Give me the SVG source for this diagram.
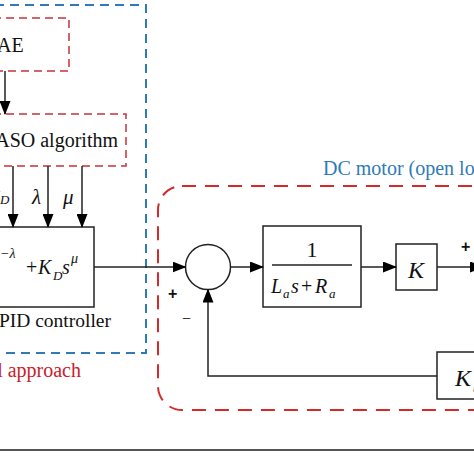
<svg xmlns="http://www.w3.org/2000/svg" width="474" height="474" viewBox="0 0 474 474">
<defs>
<style>
text{font-family:'Liberation Serif','Times New Roman',serif;fill:#111}
.it{font-style:italic}
.ln{stroke:#222;stroke-width:1.5;fill:none}
.box{stroke:#222;stroke-width:1.5;fill:#fff}
.rd{stroke:#c8303c;stroke-width:1.5;fill:none;stroke-dasharray:8 5}
.sg{font-weight:bold;font-family:'Liberation Sans',Arial,sans-serif}
</style>
<marker id="ah" markerWidth="14" markerHeight="11" refX="13" refY="5.5" orient="auto" markerUnits="userSpaceOnUse">
<path d="M0,0 L14,5.5 L0,11 Z" fill="#000"/>
</marker>
</defs>
<rect width="474" height="474" fill="#fff"/>

<g id="approach-frame">
<rect x="-20" y="5" width="166" height="348" fill="none" stroke="#2e7bb8" stroke-width="2" stroke-dasharray="9 6"/>
<text x="81" y="377" font-size="20" text-anchor="end" style="fill:#c8202a">control approach</text>
</g>

<g id="motor-frame">
<rect x="158" y="186" width="360" height="224" rx="24" fill="none" stroke="#d42a2a" stroke-width="2" stroke-dasharray="14 9"/>
<text x="323" y="175" font-size="20" style="fill:#2e7bb8">DC motor (open loop)</text>
</g>

<g id="ae">
<rect class="rd" x="-20" y="18" width="89" height="53"/>
<text x="-3" y="52" font-size="20">AE</text>
</g>

<g id="aso">
<rect class="rd" x="-20" y="114" width="146" height="52"/>
<text x="118" y="147" font-size="20" text-anchor="end">ASO algorithm</text>
</g>

<g id="pid">
<rect class="box" x="-20" y="227" width="114" height="80"/>
<text class="it" x="0" y="258" font-size="14">−λ</text>
<text x="26" y="274" font-size="20">+</text>
<text class="it" x="38" y="274" font-size="20">K</text>
<text class="it" x="53" y="280" font-size="13">D</text>
<text class="it" x="62" y="274" font-size="20">s</text>
<text class="it" x="71" y="263" font-size="14">μ</text>
<text x="111" y="327" font-size="19.5" text-anchor="end">PID controller</text>
</g>

<g id="sum">
<circle class="box" cx="208" cy="267" r="22.5"/>
<text class="sg" x="168" y="299" font-size="16">+</text>
<text x="182" y="324" font-size="16">−</text>
</g>

<g id="armature">
<rect class="box" x="263" y="226" width="98" height="81"/>
<line class="ln" x1="272" y1="265" x2="352" y2="265"/>
<text x="312" y="257" font-size="22" text-anchor="middle">1</text>
<text class="it" x="271" y="293" font-size="20">L</text>
<text class="it" x="283" y="298" font-size="13">a</text>
<text class="it" x="291" y="293" font-size="20">s</text>
<text x="301" y="293" font-size="20">+</text>
<text class="it" x="315" y="293" font-size="20">R</text>
<text class="it" x="329" y="298" font-size="13">a</text>
</g>

<g id="gain-k">
<rect class="box" x="396" y="244" width="41" height="46"/>
<text class="it" x="416" y="278" font-size="24" text-anchor="middle">K</text>
<text class="sg" x="461" y="252" font-size="16">+</text>
</g>

<g id="gain-kb">
<rect class="box" x="437" y="352" width="60" height="47"/>
<text class="it" x="455" y="386" font-size="24">K</text>
<text class="it" x="473" y="392" font-size="13">b</text>
</g>

<g id="labels">
<text class="it" x="-14" y="205" font-size="20">K</text>
<text class="it" x="0" y="204" font-size="13">D</text>
<text class="it" x="32" y="204" font-size="21">λ</text>
<text class="it" x="63" y="204" font-size="21">μ</text>
</g>

<g id="connectors">
<line class="ln" x1="5" y1="71" x2="5" y2="114" marker-end="url(#ah)"/>
<line class="ln" x1="13" y1="166" x2="13" y2="227" marker-end="url(#ah)"/>
<line class="ln" x1="48" y1="166" x2="48" y2="227" marker-end="url(#ah)"/>
<line class="ln" x1="82" y1="166" x2="82" y2="227" marker-end="url(#ah)"/>
<line class="ln" x1="94" y1="267" x2="185.5" y2="267" marker-end="url(#ah)"/>
<line class="ln" x1="230.5" y1="267" x2="263" y2="267" marker-end="url(#ah)"/>
<line class="ln" x1="361" y1="267" x2="396" y2="267" marker-end="url(#ah)"/>
<line class="ln" x1="437" y1="267" x2="483" y2="267" marker-end="url(#ah)"/>
<polyline class="ln" points="437,376 208,376 208,289.5" marker-end="url(#ah)"/>
</g>

<line x1="0" y1="450" x2="474" y2="450" stroke="#555" stroke-width="2"/>
</svg>
